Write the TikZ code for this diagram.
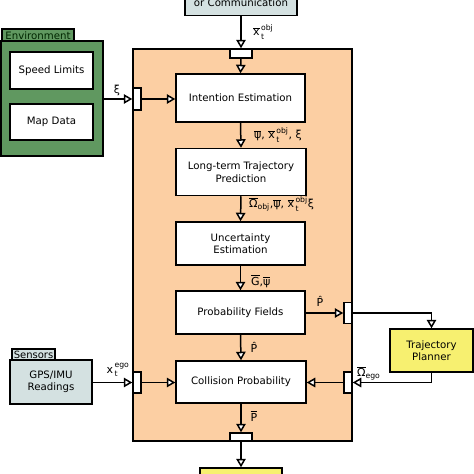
\documentclass[tikz,border=0pt]{standalone}
\usepackage{amsmath}
\usepackage{fontspec}
\setmainfont{DejaVu Sans}
\usetikzlibrary{arrows.meta}
\definecolor{peach}{RGB}{252,207,163}
\definecolor{envgreen}{RGB}{96,152,96}
\definecolor{greyblue}{RGB}{212,225,225}
\definecolor{yell}{RGB}{247,240,112}
\tikzset{
  box/.style={draw, line width=1.5pt, fill=white, align=center, font=\fontsize{10.2}{12.5}\selectfont, inner sep=0pt},
  port/.style={draw, line width=1.5pt, fill=white, inner sep=0pt},
  conn/.style={line width=1.5pt, -{Triangle[fill=white, length=8.5pt, width=9.5pt]}},
  plain/.style={line width=1.5pt},
  lab/.style={font=\fontsize{11}{12}\selectfont, inner sep=0pt},
}
\begin{document}
\begin{tikzpicture}[x=1pt,y=-1pt]
\useasboundingbox (0,0) rectangle (474,474);
% main orange block
\node[draw, line width=1.5pt, fill=peach, minimum width=219pt, minimum height=392pt, inner sep=0pt] (main) at (242.5,245) {};
% external boxes
\node[box, fill=greyblue, minimum width=112pt, minimum height=30pt, anchor=south] (src) at (241,16) {};
\node[lab, font=\fontsize{10.2}{12}\selectfont] (srctxt) at (241,3) {or Communication};
\node[draw, line width=1.5pt, fill=envgreen, minimum width=72pt, minimum height=12pt, inner sep=0pt] (envtab) at (38,35) {};
\node[font=\fontsize{10.2}{12}\selectfont, text=black!85!green, inner sep=0pt] (envtabtxt) at (38,35.5) {Environment};
\node[draw, line width=1.5pt, fill=envgreen, minimum width=102pt, minimum height=115pt, inner sep=0pt] (env) at (52,98.5) {};
\node[box, minimum width=83pt, minimum height=37pt] (speed) at (51.5,70.5) {Speed Limits};
\node[box, minimum width=83pt, minimum height=36pt] (map) at (51.5,122) {Map Data};
\node[draw, line width=1.5pt, fill=greyblue, minimum width=43pt, minimum height=11pt, inner sep=0pt] (sentab) at (33.5,354.5) {};
\node[font=\fontsize{10}{12}\selectfont, inner sep=0pt] (sentabtxt) at (33.5,355) {Sensors};
\node[box, fill=greyblue, minimum width=82pt, minimum height=44pt] (gps) at (51,382) {GPS/IMU\\Readings};
\node[box, fill=yell, minimum width=83pt, minimum height=43pt] (planner) at (431.5,350.5) {Trajectory\\Planner};
\node[box, fill=yell, minimum width=82pt, minimum height=32pt] (out) at (241,484) {};
% inner boxes
\node[box, minimum width=129pt, minimum height=48pt] (intent) at (240.5,98) {Intention Estimation};
\node[box, minimum width=130pt, minimum height=47pt] (longterm) at (241,172) {Long-term Trajectory\\Prediction};
\node[box, minimum width=129pt, minimum height=43pt] (uncert) at (240.5,243.5) {Uncertainty\\Estimation};
\node[box, minimum width=129pt, minimum height=43pt] (probf) at (240.5,312.5) {Probability Fields};
\node[box, minimum width=130pt, minimum height=42pt] (coll) at (241,382) {Collision Probability};
% ports
\node[port, minimum width=22pt, minimum height=9pt] (tport) at (241,53.5) {};
\node[port, minimum width=8pt, minimum height=22pt] (lport1) at (137,99) {};
\node[port, minimum width=8pt, minimum height=21pt] (rport1) at (348,313) {};
\node[port, minimum width=8pt, minimum height=21pt] (rport2) at (348,382.5) {};
\node[port, minimum width=8pt, minimum height=21pt] (lport2) at (137,382.5) {};
\node[port, minimum width=22pt, minimum height=8pt] (bport) at (241,437) {};
% connectors
\draw[conn] (src.south) -- (tport.north);
\draw[conn] (tport.south) -- (intent.north);
\draw[conn] (env.east |- lport1.west) -- (lport1.west);
\draw[conn] (lport1.east) -- (intent.west |- lport1.east);
\draw[conn] (intent.south) -- (longterm.north);
\draw[conn] (longterm.south) -- (uncert.north);
\draw[conn] (uncert.south) -- (probf.north);
\draw[conn] (probf.east |- rport1.west) -- (rport1.west);
\draw[conn] (rport1.east) -| (planner.north);
\draw[plain] (planner.south) |- (rport2.east);
\draw[conn] (rport2.east) ++(12pt,0) -- (rport2.east);
\draw[conn] (rport2.west) -- (coll.east |- rport2.west);
\draw[conn] (gps.east |- lport2.west) -- (lport2.west);
\draw[conn] (lport2.east) -- (coll.west |- lport2.east);
\draw[conn] (probf.south) -- (coll.north);
\draw[conn] (coll.south) -- (bport.north);
\draw[conn] (bport.south) -- (out.north);
% labels
\node[lab, anchor=west] (l1) at (253,32) {$\overline{\text{x}}^{\,\text{obj}}_{\,\text{t}}$};
\node[lab] (l2) at (117,90) {$\text{ξ}$};
\node[lab, anchor=west] (l3) at (254,135) {$\overline{\text{ψ}}$, $\overline{\text{x}}^{\,\text{obj}}_{\,\text{t}}$, ξ};
\node[lab, anchor=west] (l4) at (249,204) {$\overline{\text{Ω}}_{\text{obj}}$,$\overline{\text{ψ}}$, $\overline{\text{x}}^{\,\text{obj}}_{\,\text{t}}$ξ};
\node[lab, anchor=west] (l5) at (251,281) {$\overline{\text{G}}$,$\overline{\text{ψ}}$};
\node[lab] (l6) at (320,301) {P̂};
\node[lab] (l7) at (254,347) {P̂};
\node[lab] (l8) at (118,370) {x$^{\,\text{ego}}_{\,\text{t}}$};
\node[lab, anchor=west] (l9) at (357,373) {$\overline{\text{Ω}}_{\text{ego}}$};
\node[lab] (l10) at (254,416) {$\overline{\text{P}}$};
\end{tikzpicture}
\end{document}
